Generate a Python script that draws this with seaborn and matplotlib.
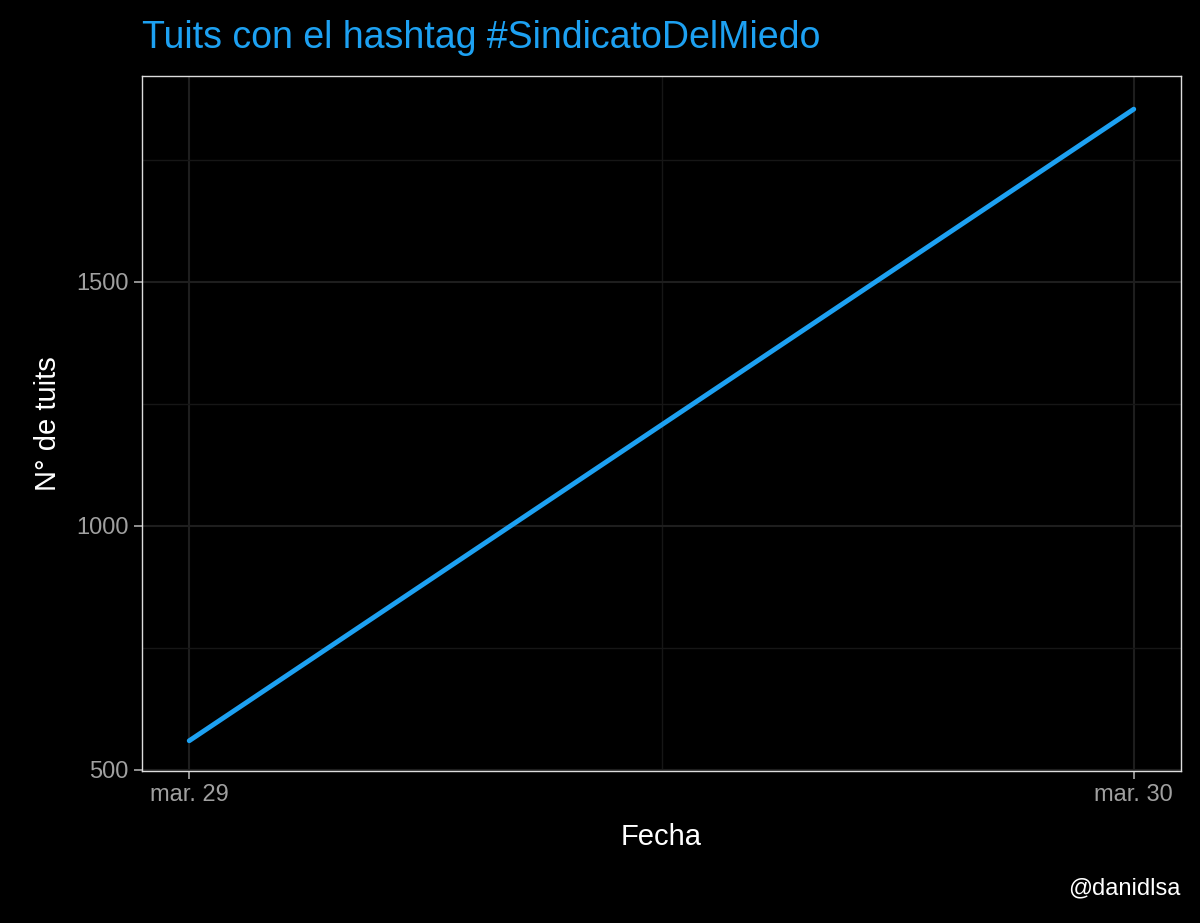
import pandas as pd
import seaborn as sns
import matplotlib.pyplot as plt

fechas = pd.to_datetime(["2019-03-29", "2019-03-30"])
tuits = [559, 1854]
df = pd.DataFrame({"fecha": fechas, "n": tuits})

sns.set_theme(style="dark")
plt.rcParams['font.family'] = ['Liberation Sans', 'DejaVu Sans']

fig = plt.figure(figsize=(12, 9.23), dpi=100, facecolor="black")
ax = fig.add_axes([142/1200, 1-771/923, (1181-142)/1200, (771-76)/923])
ax.set_facecolor("black")

sns.lineplot(data=df, x="fecha", y="n", color="#1DA1F2", lw=3.5, ax=ax)

span = fechas[1] - fechas[0]
ax.set_xlim(fechas[0] - span*0.05, fechas[1] + span*0.05)
ax.set_ylim(497, 1922)
ax.set_xticks(fechas)
ax.set_xticklabels(["mar. 29", "mar. 30"])
ax.set_xticks([fechas[0] + span/2], minor=True)
ax.set_yticks([500, 1000, 1500])
ax.set_yticks([750, 1250, 1750], minor=True)
ax.grid(True, which="major", color="#1e1e1e", lw=1.5)
ax.grid(True, which="minor", color="#161616", lw=1)
ax.tick_params(which="major", colors="#aaaaaa", labelcolor="#a0a0a0", labelsize=17,
               length=6, width=1.2, bottom=True, left=True, direction="out")
ax.tick_params(which="minor", length=0)
for s in ax.spines.values():
    s.set_color("#dddddd")
    s.set_linewidth(1)

ax.set_xlabel("Fecha", color="white", fontsize=21, labelpad=12)
ax.set_ylabel("N° de tuits", color="white", fontsize=21, labelpad=10)
fig.text(142/1200, 1-38/923, "Tuits con el hashtag #SindicatoDelMiedo",
         color="#1DA1F2", fontsize=27, va="center", ha="left")
fig.text(1181/1200, 1-888/923, "@danidlsa", color="white", fontsize=17,
         ha="right", va="center")

fig.savefig("out.png", dpi=100, facecolor="black")
